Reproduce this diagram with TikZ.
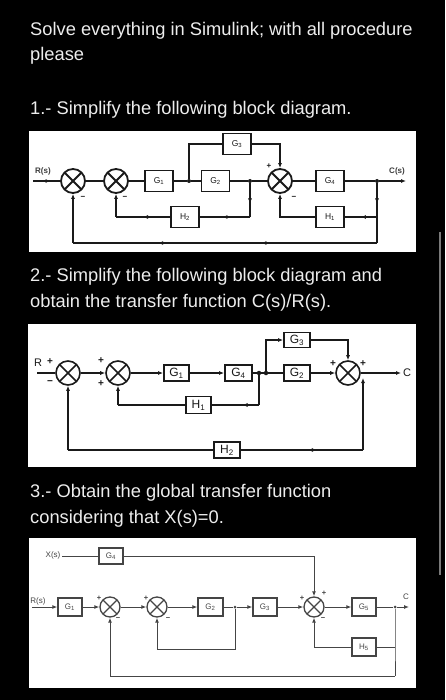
\documentclass[tikz,border=0pt]{standalone}
\usepackage{fontspec}
\setmainfont{Liberation Sans}
\usetikzlibrary{arrows.meta,decorations.markings,calc}
\definecolor{hdrcol}{HTML}{EDEDED}
\definecolor{lnA}{HTML}{1A1A1A}
\definecolor{lnC}{HTML}{454545}
\definecolor{sbar}{HTML}{7A7A7A}
\tikzset{
  >={Latex[length=5pt,width=4pt]},
  hdr/.style={anchor=base west, inner sep=0pt, text=hdrcol, font=\fontsize{18.3}{22}\selectfont},
  mid/.style={postaction={decorate}, decoration={markings, mark=at position #1 with {\arrow{>}}}},
  midtwo/.style 2 args={postaction={decorate}, decoration={markings, mark=at position #1 with {\arrow{>}}, mark=at position #2 with {\arrow{>}}}},
  % panel 1
  wA/.style={draw=lnA, line width=1.3pt},
  sumA/.style={circle, draw=lnA, line width=1.8pt, minimum size=24pt, inner sep=0pt,
    path picture={\draw[lnA, line width=1.8pt] (path picture bounding box.north west) -- (path picture bounding box.south east) (path picture bounding box.north east) -- (path picture bounding box.south west);}},
  blkA/.style={rectangle, draw=lnA, line width=1.8pt, minimum width=28pt, minimum height=21pt, inner sep=0pt, font=\fontsize{8.5}{9}\selectfont, text=lnA},
  dotA/.style={circle, fill=lnA, inner sep=0pt, minimum size=4pt},
  lblA/.style={inner sep=0pt, font=\fontsize{8}{9}\selectfont\bfseries, text=lnA!85},
  sgA/.style={inner sep=0pt, font=\fontsize{8}{9}\selectfont\bfseries, text=lnA},
  % panel 2
  wB/.style={draw=lnA, line width=1.4pt},
  sumB/.style={circle, draw=lnA, line width=1.6pt, minimum size=24pt, inner sep=0pt,
    path picture={\draw[lnA, line width=1.6pt] (path picture bounding box.north west) -- (path picture bounding box.south east) (path picture bounding box.north east) -- (path picture bounding box.south west);}},
  blkB/.style={rectangle, draw=lnA, line width=1.8pt, minimum width=25pt, minimum height=16pt, inner sep=0pt, font=\fontsize{12}{13}\selectfont, text=lnA},
  dotB/.style={circle, fill=lnA, inner sep=0pt, minimum size=4.5pt},
  lblB/.style={inner sep=0pt, font=\fontsize{11}{12}\selectfont, text=lnA},
  sgB/.style={inner sep=0pt, font=\fontsize{10}{11}\selectfont\bfseries, text=lnA},
  % panel 3
  wC/.style={draw=lnC, line width=1pt},
  sumC/.style={circle, draw=lnC, line width=1.3pt, minimum size=20pt, inner sep=0pt,
    path picture={\draw[lnC, line width=1.3pt] (path picture bounding box.north west) -- (path picture bounding box.south east) (path picture bounding box.north east) -- (path picture bounding box.south west);}},
  blkC/.style={rectangle, draw=lnC, line width=1.3pt, minimum width=24pt, minimum height=18pt, inner sep=0pt, font=\fontsize{8}{9}\selectfont, text=lnC},
  dotC/.style={circle, fill=lnC, inner sep=0pt, minimum size=3pt},
  lblC/.style={inner sep=0pt, font=\fontsize{8}{9}\selectfont, text=lnC},
  sgC/.style={inner sep=0pt, font=\fontsize{7.5}{8}\selectfont\bfseries, text=lnC},
}
\begin{document}
\begin{tikzpicture}[x=1pt,y=-1pt]
\useasboundingbox (0,0) rectangle (445,700);
\fill[black] (0,0) rectangle (445,700);
\draw[sbar, line width=2pt] (439.5,232) -- (439.5,575);

% ---------- headings ----------
\node[hdr] (t1) at (30,36) {Solve everything in Simulink; with all procedure};
\node[hdr] (t2) at (30,61) {please};
\node[hdr] (t3) at (30,115) {1.- Simplify the following block diagram.};
\node[hdr] (t4) at (30,281) {2.- Simplify the following block diagram and};
\node[hdr] (t5) at (30,307) {obtain the transfer function C(s)/R(s).};
\node[hdr] (t6) at (30,497) {3.- Obtain the global transfer function};
\node[hdr] (t7) at (30,523) {considering that X(s)=0.};

% ---------- panel 1 ----------
\fill[white] (29,131) rectangle (416,252);
\node[lblA] (p1R) at (43,171) {R(s)};
\coordinate (p1in) at (33,181);
\node[sumA] (p1s1) at (73,181) {};
\node[sumA] (p1s2) at (116,181) {};
\node[blkA] (p1G1) at (159,181) {G\textsubscript{1}};
\node[dotA] (p1j1) at (189,181) {};
\node[blkA] (p1G2) at (215.5,181) {G\textsubscript{2}};
\node[blkA] (p1G3) at (237,144) {G\textsubscript{3}};
\node[dotA] (p1j2) at (250,181) {};
\node[sumA] (p1s3) at (280,181) {};
\node[blkA] (p1G4) at (330,181) {G\textsubscript{4}};
\node[dotA] (p1j3) at (377,181) {};
\coordinate (p1out) at (406,181);
\node[lblA] (p1C) at (397,171) {C(s)};
\node[blkA] (p1H2) at (185,217) {H\textsubscript{2}};
\node[blkA] (p1H1) at (330,217) {H\textsubscript{1}};
\coordinate (p1a) at (250,217);
\coordinate (p1b) at (116,217);
\coordinate (p1c) at (377,217);
\coordinate (p1d) at (377,243);
\coordinate (p1e) at (73,243);
\node[sgA] (p1m1) at (83,198) {−};
\node[sgA] (p1m2) at (125,198) {−};
\node[sgA] (p1p3) at (269,166) {+};
\node[sgA] (p1m3) at (294,198) {−};
\draw[wA, mid=0.65] (p1in) -- (p1s1);
\draw[wA] (p1s1) -- (p1s2);
\draw[wA] (p1s2) -- (p1G1);
\draw[wA] (p1G1) -- (p1j1) -- (p1G2);
\draw[wA] (p1j1) |- (p1G3);
\draw[wA,->] (p1G3) -| (p1s3);
\draw[wA] (p1G2) -- (p1j2) -- (p1s3);
\draw[wA] (p1s3) -- (p1G4);
\draw[wA] (p1G4) -- (p1j3);
\draw[wA,->] (p1j3) -- (p1out);
\draw[wA, mid=0.6] (p1j2) -- (p1a);
\draw[wA, mid=0.55] (p1a) -- (p1H2);
\draw[wA, mid=0.5] (p1H2) -- (p1b);
\draw[wA,->] (p1b) -- (p1s2);
\draw[wA, mid=0.6] (p1j3) -- (p1c);
\draw[wA] (p1c) -- (p1d);
\draw[wA, mid=0.5] (p1c) -- (p1H1);
\draw[wA,->] (p1H1) -| (p1s3);
\draw[wA, midtwo={0.38}{0.72}] (p1d) -- (p1e);
\draw[wA,->] (p1e) -- (p1s1);

% ---------- panel 2 ----------
\fill[white] (28,324) rectangle (416,467);
\node[lblB] (p2R) at (38,363) {R};
\node[sgB] (p2pR) at (50,362) {+};
\node[sgB] (p2mR) at (50,383) {−};
\coordinate (p2in) at (37,373);
\node[sumB] (p2s1) at (68,373) {};
\node[sumB] (p2s2) at (118,373) {};
\node[sgB] (p2pa) at (101,361) {+};
\node[sgB] (p2pb) at (101,384) {+};
\node[blkB] (p2G1) at (176.5,373) {G\textsubscript{1}};
\node[blkB, minimum width=27pt] (p2G4) at (238.5,373) {G\textsubscript{4}};
\node[dotB] (p2j1) at (259,373) {};
\node[dotB] (p2j2) at (266,373) {};
\node[blkB, minimum width=26pt, minimum height=15pt] (p2G3) at (297,340) {G\textsubscript{3}};
\node[blkB, minimum width=26pt] (p2G2) at (297,373) {G\textsubscript{2}};
\node[sumB] (p2s3) at (348,373) {};
\node[sgB] (p2pc) at (333,364) {+};
\node[sgB] (p2pd) at (363,364) {+};
\coordinate (p2out) at (401,373);
\node[lblB] (p2C) at (407,373) {C};
\node[blkB, minimum height=17pt] (p2H1) at (198.5,405) {H\textsubscript{1}};
\node[blkB, minimum width=26pt] (p2H2) at (227,450) {H\textsubscript{2}};
\coordinate (p2a) at (259,405);
\coordinate (p2b) at (118,405);
\coordinate (p2f) at (363,450);
\coordinate (p2g) at (363,378);
\coordinate (p2h) at (68,450);
\draw[wB] (p2in) -- (p2s1);
\draw[wB,->] (p2s1) -- (p2s2);
\draw[wB,->] (p2s2) -- (p2G1);
\draw[wB,->] (p2G1) -- (p2G4);
\draw[wB] (p2G4) -- (p2j1) -- (p2j2) -- (p2G2);
\draw[wB,->] (p2j2) |- (p2G3);
\draw[wB,->] (p2G3) -| (p2s3);
\draw[wB,->] (p2G2) -- (p2s3);
\draw[wB,->] (p2s3) -- (p2out);
\draw[wB] (p2j1) -- (p2a);
\draw[wB, mid=0.35] (p2a) -- (p2H1);
\draw[wB] (p2H1) -- (p2b);
\draw[wB,->] (p2b) -- (p2s2);
\draw[wB,->] (p2f) -- (p2g);
\draw[wB, mid=0.45] (p2f) -- (p2H2);
\draw[wB] (p2H2) -- (p2h);
\draw[wB,->] (p2h) -- (p2s1);

% ---------- panel 3 ----------
\fill[white] (29,538) rectangle (416,688);
\node[lblC] (p3X) at (53,555) {X(s)};
\coordinate (p3xin) at (62,556);
\node[blkC, minimum height=16pt] (p3G4) at (111,556) {G\textsubscript{4}};
\coordinate (p3xc) at (314,556);
\node[lblC] (p3R) at (38,601) {R(s)};
\coordinate (p3in) at (32,607);
\node[blkC] (p3G1) at (70,607) {G\textsubscript{1}};
\node[sumC] (p3s1) at (110,607) {};
\node[sumC] (p3s2) at (157,607) {};
\node[blkC, minimum width=25pt] (p3G2) at (210.5,607) {G\textsubscript{2}};
\node[dotC] (p3j1) at (235,607) {};
\node[blkC] (p3G3) at (265,607) {G\textsubscript{3}};
\node[sumC] (p3s3) at (314,607) {};
\node[blkC] (p3G5) at (364,607) {G\textsubscript{5}};
\node[dotC] (p3j2) at (395,607) {};
\coordinate (p3out) at (409,607);
\node[lblC] (p3C) at (406,597) {C};
\node[blkC] (p3H5) at (364,647) {H\textsubscript{5}};
\coordinate (p3a) at (235,649);
\coordinate (p3b) at (157,649);
\coordinate (p3c) at (395,647);
\coordinate (p3d) at (314,647);
\coordinate (p3e) at (395,676);
\coordinate (p3f) at (110,676);
\node[sgC] (p3p1) at (99,598) {+};
\node[sgC] (p3m1) at (118,619) {−};
\node[sgC] (p3p2) at (146,598) {+};
\node[sgC] (p3m2) at (168,619) {−};
\node[sgC] (p3p3) at (302,598) {+};
\node[sgC] (p3p4) at (324,593) {+};
\node[sgC] (p3m3) at (323,619) {−};
\draw[wC] (p3xin) -- (p3G4);
\draw[wC] (p3G4) -- (p3xc);
\draw[wC,->] (p3xc) -- (p3s3);
\draw[wC,->] (p3in) -- (p3G1);
\draw[wC,->] (p3G1) -- (p3s1);
\draw[wC,->] (p3s1) -- (p3s2);
\draw[wC,->] (p3s2) -- (p3G2);
\draw[wC] (p3G2) -- (p3j1);
\draw[wC,->] (p3j1) -- (p3G3);
\draw[wC,->] (p3G3) -- (p3s3);
\draw[wC,->] (p3s3) -- (p3G5);
\draw[wC] (p3G5) -- (p3j2);
\draw[wC,->] (p3j2) -- (p3out);
\draw[wC] (p3j1) -- (p3a) -- (p3b);
\draw[wC,->] (p3b) -- (p3s2);
\draw[wC] (p3j2) -- (p3c) -- (p3e);
\draw[wC] (p3c) -- (p3H5);
\draw[wC] (p3H5) -- (p3d);
\draw[wC,->] (p3d) -- (p3s3);
\draw[wC] (p3e) -- (p3f);
\draw[wC,->] (p3f) -- (p3s1);
\end{tikzpicture}
\end{document}
